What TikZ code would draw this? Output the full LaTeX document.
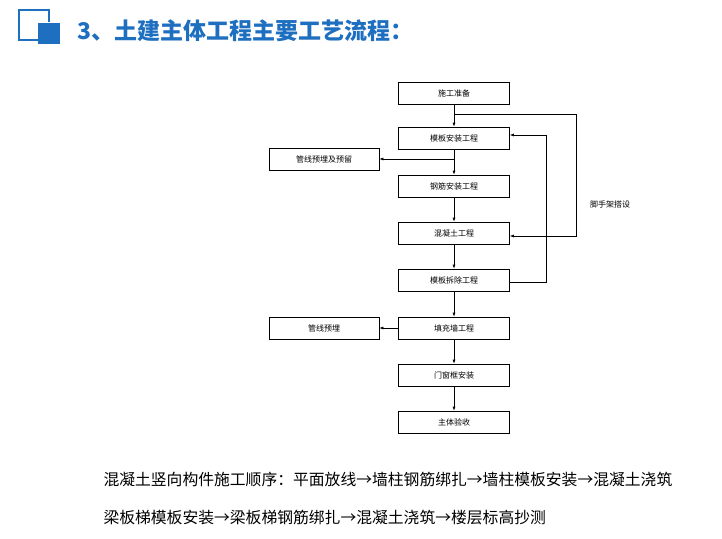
\documentclass[tikz,border=0pt]{standalone}
\usepackage{fontspec}
\setmainfont{Noto Sans CJK SC}
\usepackage{tikz}
\usetikzlibrary{arrows.meta,positioning}
\definecolor{titleblue}{HTML}{1F6FC0}

\begin{document}
\begin{tikzpicture}[x=1pt,y=-1pt,
	stepbox/.style={rectangle,draw,semithick,minimum height=22pt,minimum width=111pt,inner sep=0pt,font=\fontsize{8}{9}\selectfont},
	flow/.style={-{Latex[length=4pt]},semithick}]
	\useasboundingbox (0,0) rectangle (722,538);
	% title
	\draw[titleblue,line width=2pt] (39,40) -- (19,40) -- (19,10) -- (49,10) -- (49,22);
	\fill[titleblue] (38,23) rectangle (60,44);
	\node[anchor=west,text=titleblue,font=\fontsize{23}{25}\selectfont\bfseries] (title) at (74,31) {3、土建主体工程主要工艺流程：};

	% main column
	\node[stepbox] (A) at (454,93) {施工准备};
	\node[stepbox] (B) at (454,138) {模板安装工程};
	\node[stepbox] (C) at (454,186) {钢筋安装工程};
	\node[stepbox] (D) at (454,233) {混凝土工程};
	\node[stepbox] (E) at (454,280) {模板拆除工程};
	\node[stepbox] (F) at (454,328) {填充墙工程};
	\node[stepbox] (G) at (454,375) {门窗框安装};
	\node[stepbox] (H) at (454,422) {主体验收};
	\node[stepbox,minimum width=110pt] (P1) at (324,159) {管线预埋及预留};
	\node[stepbox,minimum width=110pt] (P2) at (324,328) {管线预埋};
	\node[font=\fontsize{8}{9}\selectfont] (S) at (610,204) {脚手架搭设};

	\coordinate (top) at (454,114);
	\coordinate (mid) at (454,159);
	\draw[flow] (A) -- (B);
	\draw[flow] (B) -- (C);
	\draw[flow] (C) -- (D);
	\draw[flow] (D) -- (E);
	\draw[flow] (E) -- (F);
	\draw[flow] (F) -- (G);
	\draw[flow] (G) -- (H);
	\draw[flow] (mid) -- (P1.east);
	\draw[flow] (F.west) -- (P2.east);
	\draw[flow] (top) -- (576,114) -- (576,236) -- (D.east |- 0,236);
	\draw[flow] (E.east |- 0,282) -- (546,282) -- (546,135) -- (B.east |- 0,135);

	% notes
	\node[anchor=west,font=\fontsize{15.8}{17}\selectfont] (N1) at (100,479) {混凝土竖向构件施工顺序：平面放线→墙柱钢筋绑扎→墙柱模板安装→混凝土浇筑};
	\node[anchor=west,font=\fontsize{15.8}{17}\selectfont] (N2) at (100,518) {梁板梯模板安装→梁板梯钢筋绑扎→混凝土浇筑→楼层标高抄测};
\end{tikzpicture}
\end{document}
